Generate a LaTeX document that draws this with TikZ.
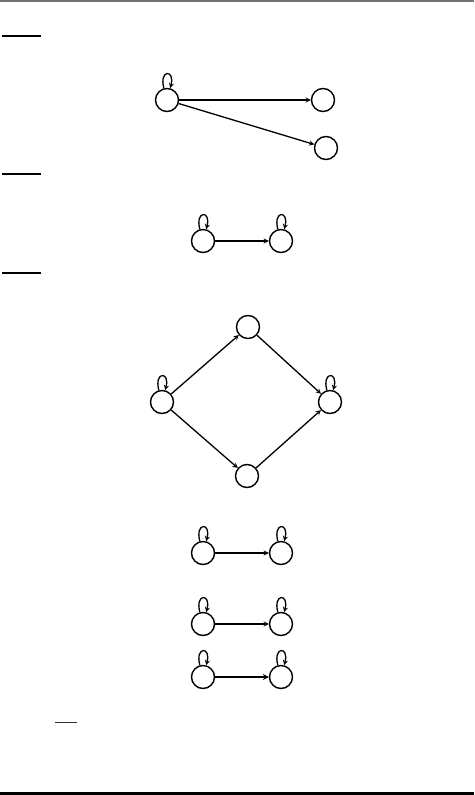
\documentclass[tikz,border=0pt]{standalone}
\usetikzlibrary{positioning}

\tikzstyle{zustand} = [circle, draw=black, line width=1.4pt, minimum size=23pt, inner sep=0pt]
\tikzstyle{kante} = [->, >=stealth, line width=1.3pt]
\tikzstyle{schleife} = [->, >=stealth, line width=1.3pt, out=105, in=75, looseness=8]
\tikzstyle{strich} = [line width=1.2pt]

\begin{document}
\begin{tikzpicture}[x=1pt, y=-1pt, node distance=78pt]
	\useasboundingbox (0,0) rectangle (474,795);
	\fill[black!55] (0,0) rectangle (474,2);
	\fill[black] (0,792) rectangle (474,795);

	% Trennstriche
	\coordinate (s1a) at (2,36);   \coordinate (s1b) at (41,36);
	\coordinate (s2a) at (2,174);  \coordinate (s2b) at (41,174);
	\coordinate (s3a) at (2,273);  \coordinate (s3b) at (41,273);
	\coordinate (s4a) at (55,722); \coordinate (s4b) at (77,722);
	\draw[strich] (s1a) -- (s1b);
	\draw[strich] (s2a) -- (s2b);
	\draw[strich] (s3a) -- (s3b);
	\draw[line width=0.8pt, black!80] (s4a) -- (s4b);

	% Graph 1
	\node (g1a) [zustand] at (167,100) {};
	\node (g1b) [zustand] at (323,100) {};
	\node (g1c) [zustand] at (326,148) {};
	\draw[schleife] (g1a) to (g1a);
	\draw[kante] (g1a) -- (g1b);
	\draw[kante] (g1a) -- (g1c);

	% Graph 2
	\node (g2a) [zustand] at (203,241) {};
	\node (g2b) [zustand, right of=g2a] {};
	\draw[schleife] (g2a) to (g2a);
	\draw[schleife] (g2b) to (g2b);
	\draw[kante] (g2a) -- (g2b);

	% Raute
	\node (links)  [zustand] at (162,402) {};
	\node (oben)   [zustand] at (248,327) {};
	\node (rechts) [zustand] at (330,402) {};
	\node (unten)  [zustand] at (247,476) {};
	\draw[schleife] (links) to (links);
	\draw[schleife] (rechts) to (rechts);
	\draw[kante] (links) -- (oben);
	\draw[kante] (links) -- (unten);
	\draw[kante] (oben)  -- (rechts);
	\draw[kante] (unten) -- (rechts);

	% drei Paare
	\node (p1a) [zustand] at (203,553) {};
	\node (p1b) [zustand, right of=p1a] {};
	\node (p2a) [zustand] at (203,624) {};
	\node (p2b) [zustand, right of=p2a] {};
	\node (p3a) [zustand] at (203,677) {};
	\node (p3b) [zustand, right of=p3a] {};
	\draw[schleife] (p1a) to (p1a);
	\draw[schleife] (p1b) to (p1b);
	\draw[schleife] (p2a) to (p2a);
	\draw[schleife] (p2b) to (p2b);
	\draw[schleife] (p3a) to (p3a);
	\draw[schleife] (p3b) to (p3b);
	\draw[kante] (p1a) -- (p1b);
	\draw[kante] (p2a) -- (p2b);
	\draw[kante, line width=1.6pt] (p3a) -- (p3b);
\end{tikzpicture}
\end{document}
